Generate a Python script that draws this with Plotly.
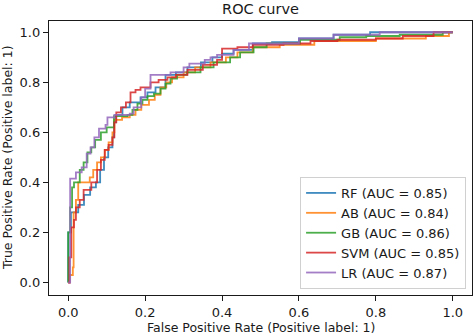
import plotly.graph_objects as go

# ROC curve vertices (fpr, tpr) for each classifier, drawn as steps
fpr_rf = [0, 0, 0.007, 0.026, 0.041, 0.057, 0.072, 0.083, 0.093, 0.104, 0.115, 0.119, 0.124, 0.141, 0.160,
          0.188, 0.206, 0.227, 0.253, 0.28, 0.31, 0.345, 0.375, 0.40, 0.43, 0.48, 0.53, 0.60, 0.69, 0.785, 1.0]
tpr_rf = [0, 0.20, 0.28, 0.31, 0.35, 0.38, 0.40, 0.45, 0.50, 0.54, 0.58, 0.64, 0.67, 0.70, 0.72,
          0.74, 0.76, 0.78, 0.83, 0.84, 0.86, 0.88, 0.90, 0.915, 0.93, 0.955, 0.96, 0.975, 0.99, 1.0, 1.0]

fpr_ab = [0, 0.004, 0.012, 0.014, 0.02, 0.026, 0.056, 0.065, 0.075, 0.085, 0.095, 0.105, 0.115, 0.12, 0.14,
          0.16, 0.175, 0.19, 0.21, 0.225, 0.24, 0.255, 0.27, 0.30, 0.33, 0.37, 0.41, 0.44, 0.48, 0.55, 0.64,
          0.80, 0.93, 0.99, 1.0]
tpr_ab = [0, 0.03, 0.06, 0.28, 0.33, 0.40, 0.42, 0.45, 0.48, 0.50, 0.53, 0.56, 0.60, 0.65, 0.66,
          0.67, 0.69, 0.71, 0.73, 0.75, 0.78, 0.80, 0.82, 0.84, 0.86, 0.88, 0.90, 0.92, 0.94, 0.95, 0.965,
          0.975, 0.985, 1.0, 1.0]

fpr_gb = [0, 0, 0.005, 0.01, 0.015, 0.03, 0.04, 0.05, 0.06, 0.07, 0.085, 0.10, 0.119, 0.154, 0.167, 0.18,
          0.193, 0.206, 0.223, 0.24, 0.253, 0.266, 0.283, 0.309, 0.344, 0.378, 0.421, 0.447, 0.482, 0.516,
          0.603, 0.706, 0.775, 0.862, 0.974, 1.0]
tpr_gb = [0, 0.20, 0.30, 0.38, 0.40, 0.45, 0.48, 0.52, 0.54, 0.57, 0.60, 0.62, 0.665, 0.67, 0.69, 0.715,
          0.73, 0.745, 0.755, 0.775, 0.795, 0.815, 0.83, 0.84, 0.86, 0.88, 0.90, 0.92, 0.94, 0.955,
          0.97, 0.98, 0.985, 0.99, 1.0, 1.0]

fpr_svm = [0, 0.003, 0.008, 0.015, 0.02, 0.03, 0.04, 0.06, 0.075, 0.085, 0.095, 0.105, 0.115, 0.12, 0.125,
           0.137, 0.15, 0.162, 0.175, 0.188, 0.214, 0.235, 0.258, 0.28, 0.31, 0.35, 0.387, 0.40, 0.44, 0.48,
           0.56, 0.63, 0.70, 0.80, 0.87, 0.95, 1.0]
tpr_svm = [0, 0.10, 0.22, 0.25, 0.30, 0.33, 0.37, 0.40, 0.45, 0.49, 0.53, 0.55, 0.58, 0.64, 0.68,
           0.70, 0.72, 0.76, 0.77, 0.78, 0.80, 0.81, 0.82, 0.83, 0.85, 0.87, 0.89, 0.935, 0.94, 0.95,
           0.955, 0.965, 0.97, 0.975, 0.985, 1.0, 1.0]

fpr_lr = [0, 0.005, 0.02, 0.035, 0.048, 0.058, 0.068, 0.08, 0.097, 0.102, 0.12, 0.16, 0.17, 0.19, 0.2,
          0.214, 0.266, 0.30, 0.315, 0.355, 0.37, 0.387, 0.43, 0.47, 0.6, 0.69, 0.81, 1.0]
tpr_lr = [0, 0.415, 0.44, 0.46, 0.515, 0.54, 0.58, 0.615, 0.63, 0.66, 0.67, 0.675, 0.70, 0.74, 0.775,
          0.83, 0.84, 0.86, 0.875, 0.89, 0.90, 0.91, 0.93, 0.955, 0.975, 0.99, 1.0, 1.0]

model_names = ["RF", "AB", "GB", "SVM", "LR"]
auc_values = [0.85, 0.84, 0.86, 0.85, 0.87]
curves = [(fpr_rf, tpr_rf), (fpr_ab, tpr_ab), (fpr_gb, tpr_gb), (fpr_svm, tpr_svm), (fpr_lr, tpr_lr)]
colors = ["#1f77b4", "#ff7f0e", "#2ca02c", "#d62728", "#9467bd"]

x_ticks = [0.0, 0.2, 0.4, 0.6, 0.8, 1.0]
y_ticks = [0.0, 0.2, 0.4, 0.6, 0.8, 1.0]

FONT = "DejaVu Sans"
INK = "#1a1a1a"

fig = go.Figure()
for name, auc, (fpr, tpr), col in zip(model_names, auc_values, curves, colors):
    fig.add_trace(go.Scatter(
        x=fpr, y=tpr, mode="lines", line_shape="hv",
        line=dict(color=col, width=1.8),
        opacity=0.85,
        name=f"{name} (AUC = {auc:.2f})",
    ))

axis_common = dict(
    showline=True, linecolor=INK, linewidth=1.3, mirror=True,
    showgrid=False, zeroline=False,
    ticks="outside", ticklen=5, tickcolor=INK, tickwidth=1,
    tickfont=dict(family=FONT, size=13, color=INK),
    tickformat=".1f",
)

fig.update_layout(
    width=474, height=335,
    margin=dict(l=49, r=2, t=21, b=40),
    paper_bgcolor="white", plot_bgcolor="white",
    title=dict(text="ROC curve", x=0.5, xref="paper", y=1 - 9 / 335, yref="container",
               yanchor="middle", font=dict(family=FONT, size=14.5, color=INK)),
    xaxis=dict(range=[-0.05, 1.05], tickvals=x_ticks, **axis_common),
    yaxis=dict(range=[-0.05, 1.045], tickvals=y_ticks, **axis_common),
    legend=dict(
        x=0.986, y=0.022, xanchor="right", yanchor="bottom",
        bgcolor="rgba(255,255,255,0.8)", bordercolor="#d0d0d0", borderwidth=1,
        font=dict(family=FONT, size=13, color=INK),
        tracegroupgap=0, itemwidth=30,
    ),
    showlegend=True,
)

fig.add_annotation(text="False Positive Rate (Positive label: 1)", xref="paper", yref="paper",
                   x=0.5, y=0, yshift=-32, xanchor="center", yanchor="middle", showarrow=False,
                   font=dict(family=FONT, size=12.5, color=INK))
fig.add_annotation(text="True Positive Rate (Positive label: 1)", xref="paper", yref="paper",
                   x=0, y=0.5, xshift=-42, xanchor="center", yanchor="middle", showarrow=False,
                   textangle=-90, font=dict(family=FONT, size=12.5, color=INK))

fig.write_html("out.html")
